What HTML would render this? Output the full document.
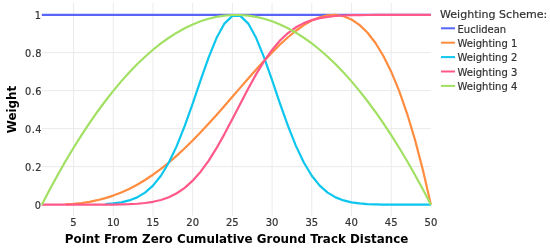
<!DOCTYPE html>
<html><head><meta charset="utf-8"><style>
html,body{margin:0;padding:0;background:#fff;}
svg{display:block;}
text{font-family:"DejaVu Sans","Liberation Sans",sans-serif;}
</style></head><body>
<svg width="550" height="251" viewBox="0 0 550 251">
<rect width="550" height="251" fill="#fff"/>
<g stroke="#ebebeb" stroke-width="1" fill="none">
<line x1="73.56" y1="3.0" x2="73.56" y2="215.5"/>
<line x1="113.27" y1="3.0" x2="113.27" y2="215.5"/>
<line x1="152.97" y1="3.0" x2="152.97" y2="215.5"/>
<line x1="192.68" y1="3.0" x2="192.68" y2="215.5"/>
<line x1="232.38" y1="3.0" x2="232.38" y2="215.5"/>
<line x1="272.08" y1="3.0" x2="272.08" y2="215.5"/>
<line x1="311.79" y1="3.0" x2="311.79" y2="215.5"/>
<line x1="351.49" y1="3.0" x2="351.49" y2="215.5"/>
<line x1="391.20" y1="3.0" x2="391.20" y2="215.5"/>
<line x1="41.8" y1="166.60" x2="430.9" y2="166.60"/>
<line x1="41.8" y1="128.60" x2="430.9" y2="128.60"/>
<line x1="41.8" y1="90.60" x2="430.9" y2="90.60"/>
<line x1="41.8" y1="52.60" x2="430.9" y2="52.60"/>
</g>
<defs><clipPath id="pc"><rect x="39.8" y="3.0" width="393.09999999999997" height="212.5"/></clipPath></defs>
<g fill="none" stroke-width="2.2" stroke-linejoin="round" stroke-linecap="butt" clip-path="url(#pc)">
<path d="M41.80,14.90L430.90,14.90" stroke="#5865f6"/>
<path d="M65.62,204.31L73.56,203.80L81.50,202.98L89.44,201.80L97.39,200.20L105.33,198.15L113.27,195.59L121.21,192.52L129.15,188.91L137.09,184.74L145.03,180.00L152.97,174.71L160.91,168.87L168.85,162.49L176.79,155.61L184.73,148.25L192.68,140.45L200.62,132.26L208.56,123.73L216.50,114.93L224.44,105.92L232.38,96.78L240.32,87.60L248.26,78.47L256.20,69.49L264.14,60.75L272.08,52.39L280.02,44.51L287.97,37.26L295.91,30.76L303.85,25.16L311.79,20.61L319.73,17.27L327.67,15.31L335.61,14.90L343.55,16.23L351.49,19.47L359.43,24.84L367.37,32.53L375.31,42.76L383.26,55.74L391.20,71.70L399.14,90.88L407.08,113.52L415.02,139.86L422.96,170.17L430.90,204.70" stroke="#ff8c3f"/>
<path d="M105.33,204.05L113.27,203.43L121.21,202.32L129.15,200.43L137.09,197.37L145.03,192.62L152.97,185.59L160.91,175.72L168.85,162.54L176.79,145.87L184.73,125.96L192.68,103.61L200.62,80.20L208.56,57.64L216.50,38.06L224.44,23.59L232.38,15.89L240.32,15.89L248.26,23.59L256.20,38.06L264.14,57.64L272.08,80.20L280.02,103.61L287.97,125.96L295.91,145.87L303.85,162.54L311.79,175.72L319.73,185.59L327.67,192.62L335.61,197.37L343.55,200.43L351.49,202.32L359.43,203.43L367.37,204.05L375.31,204.38L383.26,204.55L391.20,204.63L399.14,204.67L407.08,204.69L415.02,204.69L422.96,204.70L430.90,204.70" stroke="#0cc6ee"/>
<path d="M41.80,204.70L49.74,204.70L57.68,204.70L65.62,204.70L73.56,204.70L81.50,204.69L89.44,204.69L97.39,204.67L105.33,204.63L113.27,204.56L121.21,204.43L129.15,204.18L137.09,203.74L145.03,203.00L152.97,201.80L160.91,199.95L168.85,197.18L176.79,193.23L184.73,187.81L192.68,180.68L200.62,171.69L208.56,160.81L216.50,148.17L224.44,134.09L232.38,119.05L240.32,103.63L248.26,88.46L256.20,74.14L264.14,61.19L272.08,49.94L280.02,40.57L287.97,33.07L295.91,27.33L303.85,23.11L311.79,20.13L319.73,18.11L327.67,16.80L335.61,15.98L343.55,15.49L351.49,15.21L359.43,15.06L367.37,14.98L375.31,14.94L383.26,14.92L391.20,14.91L399.14,14.90L407.08,14.90L415.02,14.90L422.96,14.90L430.90,14.90" stroke="#ff5889"/>
<path d="M41.80,204.70L49.74,189.52L57.68,174.98L65.62,161.06L73.56,147.78L81.50,135.14L89.44,123.12L97.39,111.74L105.33,100.99L113.27,90.87L121.21,81.38L129.15,72.53L137.09,64.31L145.03,56.72L152.97,49.76L160.91,43.44L168.85,37.75L176.79,32.69L184.73,28.26L192.68,24.47L200.62,21.30L208.56,18.77L216.50,16.88L224.44,15.61L232.38,14.98L240.32,14.98L248.26,15.61L256.20,16.88L264.14,18.77L272.08,21.30L280.02,24.47L287.97,28.26L295.91,32.69L303.85,37.75L311.79,43.44L319.73,49.76L327.67,56.72L335.61,64.31L343.55,72.53L351.49,81.38L359.43,90.87L367.37,100.99L375.31,111.74L383.26,123.12L391.20,135.14L399.14,147.78L407.08,161.06L415.02,174.98L422.96,189.52L430.90,204.70" stroke="#a2e064"/>
</g>
<g font-size="10" fill="#333" stroke="#333" stroke-width="0.2">
<text x="73.56" y="225.5" text-anchor="middle">5</text>
<text x="113.27" y="225.5" text-anchor="middle">10</text>
<text x="152.97" y="225.5" text-anchor="middle">15</text>
<text x="192.68" y="225.5" text-anchor="middle">20</text>
<text x="232.38" y="225.5" text-anchor="middle">25</text>
<text x="272.08" y="225.5" text-anchor="middle">30</text>
<text x="311.79" y="225.5" text-anchor="middle">35</text>
<text x="351.49" y="225.5" text-anchor="middle">40</text>
<text x="391.20" y="225.5" text-anchor="middle">45</text>
<text x="430.90" y="225.5" text-anchor="middle">50</text>
<text x="41.1" y="208.90" font-size="9.8" text-anchor="end">0</text>
<text x="41.5" y="170.90" font-size="9.8" text-anchor="end">0<tspan dx="0.45">.</tspan><tspan dx="0.45">2</tspan></text>
<text x="41.5" y="132.90" font-size="9.8" text-anchor="end">0<tspan dx="0.45">.</tspan><tspan dx="0.45">4</tspan></text>
<text x="41.5" y="94.90" font-size="9.8" text-anchor="end">0<tspan dx="0.45">.</tspan><tspan dx="0.45">6</tspan></text>
<text x="41.5" y="56.90" font-size="9.8" text-anchor="end">0<tspan dx="0.45">.</tspan><tspan dx="0.45">8</tspan></text>
<text x="41.1" y="18.90" font-size="9.8" text-anchor="end">1</text>
</g>
<text transform="translate(236.6,242.6) scale(1.045,1)" text-anchor="middle" font-size="11.4" font-weight="bold" fill="#000">Point From Zero Cumulative Ground Track Distance</text>
<text transform="translate(15.8,109.5) rotate(-90) scale(1.04,1)" text-anchor="middle" font-size="11.4" font-weight="bold" fill="#000">Weight</text>
<text x="440" y="18.1" font-size="11.05" fill="#333" stroke="#333" stroke-width="0.2">Weighting Scheme:</text>
<g font-size="10" fill="#333" stroke="#333" stroke-width="0.2">
<line x1="441" y1="28.30" x2="455" y2="28.30" stroke="#5865f6" stroke-width="2"/>
<text x="457.5" y="32.60">Euclidean</text>
<line x1="441" y1="42.70" x2="455" y2="42.70" stroke="#ff8c3f" stroke-width="2"/>
<text x="457.5" y="47.00">Weighting 1</text>
<line x1="441" y1="57.10" x2="455" y2="57.10" stroke="#0cc6ee" stroke-width="2"/>
<text x="457.5" y="61.40">Weighting 2</text>
<line x1="441" y1="71.50" x2="455" y2="71.50" stroke="#ff5889" stroke-width="2"/>
<text x="457.5" y="75.80">Weighting 3</text>
<line x1="441" y1="85.90" x2="455" y2="85.90" stroke="#a2e064" stroke-width="2"/>
<text x="457.5" y="90.20">Weighting 4</text>
</g>
</svg>
</body></html>
